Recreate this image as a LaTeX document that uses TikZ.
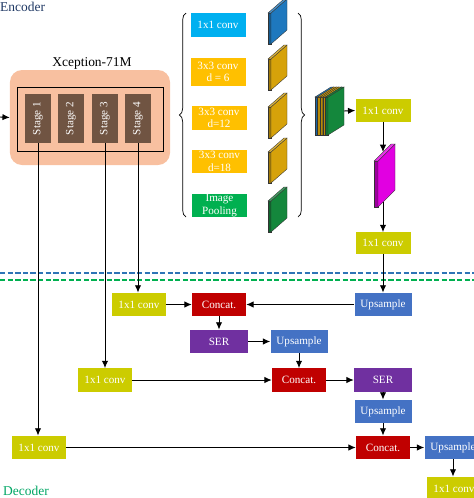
\documentclass[tikz,border=0pt]{standalone}
\usepackage{fontspec}
\setmainfont{Liberation Serif}
\usetikzlibrary{arrows.meta,decorations.pathreplacing}

\definecolor{encblue}{RGB}{31,56,100}
\definecolor{decgreen}{RGB}{0,166,100}
\definecolor{peach}{RGB}{248,192,160}
\definecolor{stgbrown}{RGB}{112,84,66}
\definecolor{aspcyan}{RGB}{0,176,240}
\definecolor{asporange}{RGB}{255,192,0}
\definecolor{aspgreen}{RGB}{0,176,80}
\definecolor{convyel}{RGB}{204,204,0}
\definecolor{catred}{RGB}{192,0,0}
\definecolor{serpurple}{RGB}{112,48,160}
\definecolor{upblue}{RGB}{68,114,196}
\definecolor{mapblue}{RGB}{30,120,190}
\definecolor{maporange}{RGB}{214,162,10}
\definecolor{mapgreen}{RGB}{20,135,60}
\definecolor{mapmag}{RGB}{225,0,225}
\definecolor{dashblue}{RGB}{46,117,182}

\tikzset{
	blk/.style={rectangle, inner sep=0pt, text=white, align=center,
		font=\fontsize{9.5}{10.5}\selectfont, minimum width=16.2mm, minimum height=7mm},
	conv/.style={blk, fill=convyel},
	cat/.style={blk, fill=catred},
	ser/.style={blk, fill=serpurple, minimum width=17.4mm},
	ups/.style={blk, fill=upblue, minimum width=17.1mm},
	aspp/.style={blk, minimum width=16.5mm},
	stg/.style={blk, fill=stgbrown, rotate=90, minimum width=14.7mm, minimum height=7.8mm},
	arr/.style={-{Latex[length=2.2mm,width=1.9mm]}, line width=0.8pt},
	slab/.style={draw=black!80, line width=0.3pt},
	sep/.style={dashed, dash pattern=on 4.5pt off 2pt, line width=1.1pt}
}

\begin{document}
\begin{tikzpicture}[x=0.03cm, y=-0.03cm]
			\clip (0,0) rectangle (474,498);

			% labels
			\node (enc) at (0,7) [anchor=west, inner sep=0pt, text=encblue, font=\fontsize{11.5}{12}\selectfont] {Encoder};
			\node (dec) at (3,491) [anchor=west, inner sep=0pt, text=decgreen, font=\fontsize{11.5}{12}\selectfont] {Decoder};

			% backbone
			\node (xlabel) at (92,63) [font=\fontsize{11.5}{12}\selectfont] {Xception-71M};
			\node (xcp) at (90,117.5) [rectangle, rounded corners=3.6mm, fill=peach, minimum width=48mm, minimum height=28.5mm] {};
			\node (inner) at (90,119) [rectangle, draw, line width=0.7pt, minimum width=43.8mm, minimum height=19.2mm] {};
			\node (s1) at (38,118.5) [stg] {Stage 1};
			\node (s2) at (71,118.5) [stg] {Stage 2};
			\node (s3) at (105,118.5) [stg] {Stage 3};
			\node (s4) at (138,118.5) [stg] {Stage 4};
			\coordinate (in) at (0,117);
			\draw [arr] (in) -- (xcp.west);

			% ASPP branches
			\node (b1) at (218,25) [aspp, fill=aspcyan, minimum height=7.2mm] {1x1 conv};
			\node (b2) at (218,72) [aspp, fill=asporange, minimum height=8.4mm] {3x3 conv\\d = 6};
			\node (b3) at (219,118) [aspp, fill=asporange, minimum height=7.2mm] {3x3 conv\\d=12};
			\node (b4) at (219.5,161.5) [aspp, fill=asporange, minimum height=7mm] {3x3 conv\\d=18};
			\node (b5) at (219.5,205.5) [aspp, fill=aspgreen, minimum height=7mm] {Image\\Pooling};
			\draw [decorate, decoration={brace, amplitude=2mm}, line width=0.6pt] (186,217) -- (186,13);
			\draw [decorate, decoration={brace, amplitude=2mm}, line width=0.6pt] (298,13) -- (298,217);

			% branch feature maps
			\foreach \yb/\col in {44/mapblue, 90/maporange, 138/maporange, 183/maporange, 232/mapgreen} {
				\filldraw [slab, fill=\col!75!black] (268,\yb) rectangle (271,\yb-31);
				\filldraw [slab, fill=\col] (271,\yb) -- (271,\yb-31) -- (287,\yb-45) -- (287,\yb-14) -- cycle;
				\filldraw [slab, fill=\col!80!white] (268,\yb-31) -- (271,\yb-31) -- (287,\yb-45) -- (284,\yb-45) -- cycle;
			}

			% stacked maps
			\foreach \i/\col in {0/mapblue, 1/maporange, 2/maporange, 3/maporange, 4/mapgreen} {
				\pgfmathsetmacro\xs{315+2.6*\i}
				\filldraw [slab, fill=\col!85!black] (\xs,135) rectangle (\xs+2.6,97);
				\filldraw [slab, fill=\col] (\xs+2.6,135) -- (\xs+2.6,97) -- (\xs+18.6,87) -- (\xs+18.6,125) -- cycle;
				\filldraw [slab, fill=\col] (\xs,97) -- (\xs+2.6,97) -- (\xs+18.6,87) -- (\xs+16,87) -- cycle;
			}
			\coordinate (stack) at (344,111);

			% magenta map
			\filldraw [slab, fill=mapmag!70!black] (374,207) rectangle (378,161);
			\filldraw [slab, fill=mapmag] (378,207) -- (378,161) -- (395,144) -- (395,190) -- cycle;
			\filldraw [slab, fill=mapmag!80!white] (374,161) -- (378,161) -- (395,144) -- (391,144) -- cycle;
			\coordinate (magtop) at (383,152);
			\coordinate (magbot) at (383,202);

			\node (a1) at (383,110.5) [conv, minimum width=16.5mm] {1x1 conv};
			\node (a2) at (383,243) [conv, minimum width=16.5mm, minimum height=6.4mm] {1x1 conv};

			% encoder / decoder border
			\draw [sep, dashblue] (0,273) -- (474,273);
			\draw [sep, aspgreen] (0,280) -- (474,280);

			% decoder
			\node (c4) at (139,304.5) [conv] {1x1 conv};
			\node (cat1) at (219,304.5) [cat] {Concat.};
			\node (up1) at (383,304.5) [ups] {Upsample};
			\node (ser1) at (219,341.5) [ser] {SER};
			\node (up2) at (299,341.5) [ups] {Upsample};
			\node (c3) at (105,380) [conv] {1x1 conv};
			\node (cat2) at (299,380) [cat] {Concat.};
			\node (ser2) at (383,380) [ser] {SER};
			\node (up3) at (383,411.5) [ups] {Upsample};
			\node (c1) at (39,447.5) [conv] {1x1 conv};
			\node (cat3) at (383,447.5) [cat] {Concat.};
			\node (up4) at (453,447.5) [ups] {Upsample};
			\node (c5) at (454,488.5) [conv] {1x1 conv};

			% connectors
			\draw [arr] (stack) -- (a1.west);
			\draw [arr] (a1.south) -- (magtop);
			\draw [arr] (magbot) -- (a2.north);
			\draw [arr] (a2.south) -- (up1.north);
			\draw [arr] (up1.west) -- (cat1.east);
			\draw [arr] (s4.west) -- (s4.west |- c4.north);
			\draw [arr] (s3.west) -- (s3.west |- c3.north);
			\draw [arr] (s1.west) -- (s1.west |- c1.north);
			\draw [arr] (c4.east) -- (cat1.west);
			\draw [arr] (cat1.south) -- (ser1.north);
			\draw [arr] (ser1.east) -- (up2.west);
			\draw [arr] (up2.south) -- (cat2.north);
			\draw [arr] (c3.east) -- (cat2.west);
			\draw [arr] (cat2.east) -- (ser2.west);
			\draw [arr] (ser2.south) -- (up3.north);
			\draw [arr] (up3.south) -- (cat3.north);
			\draw [arr] (c1.east) -- (cat3.west);
			\draw [arr] (cat3.east) -- (up4.west);
			\draw [arr] (up4.south) -- (up4.south |- c5.north);
		\end{tikzpicture}
\end{document}
